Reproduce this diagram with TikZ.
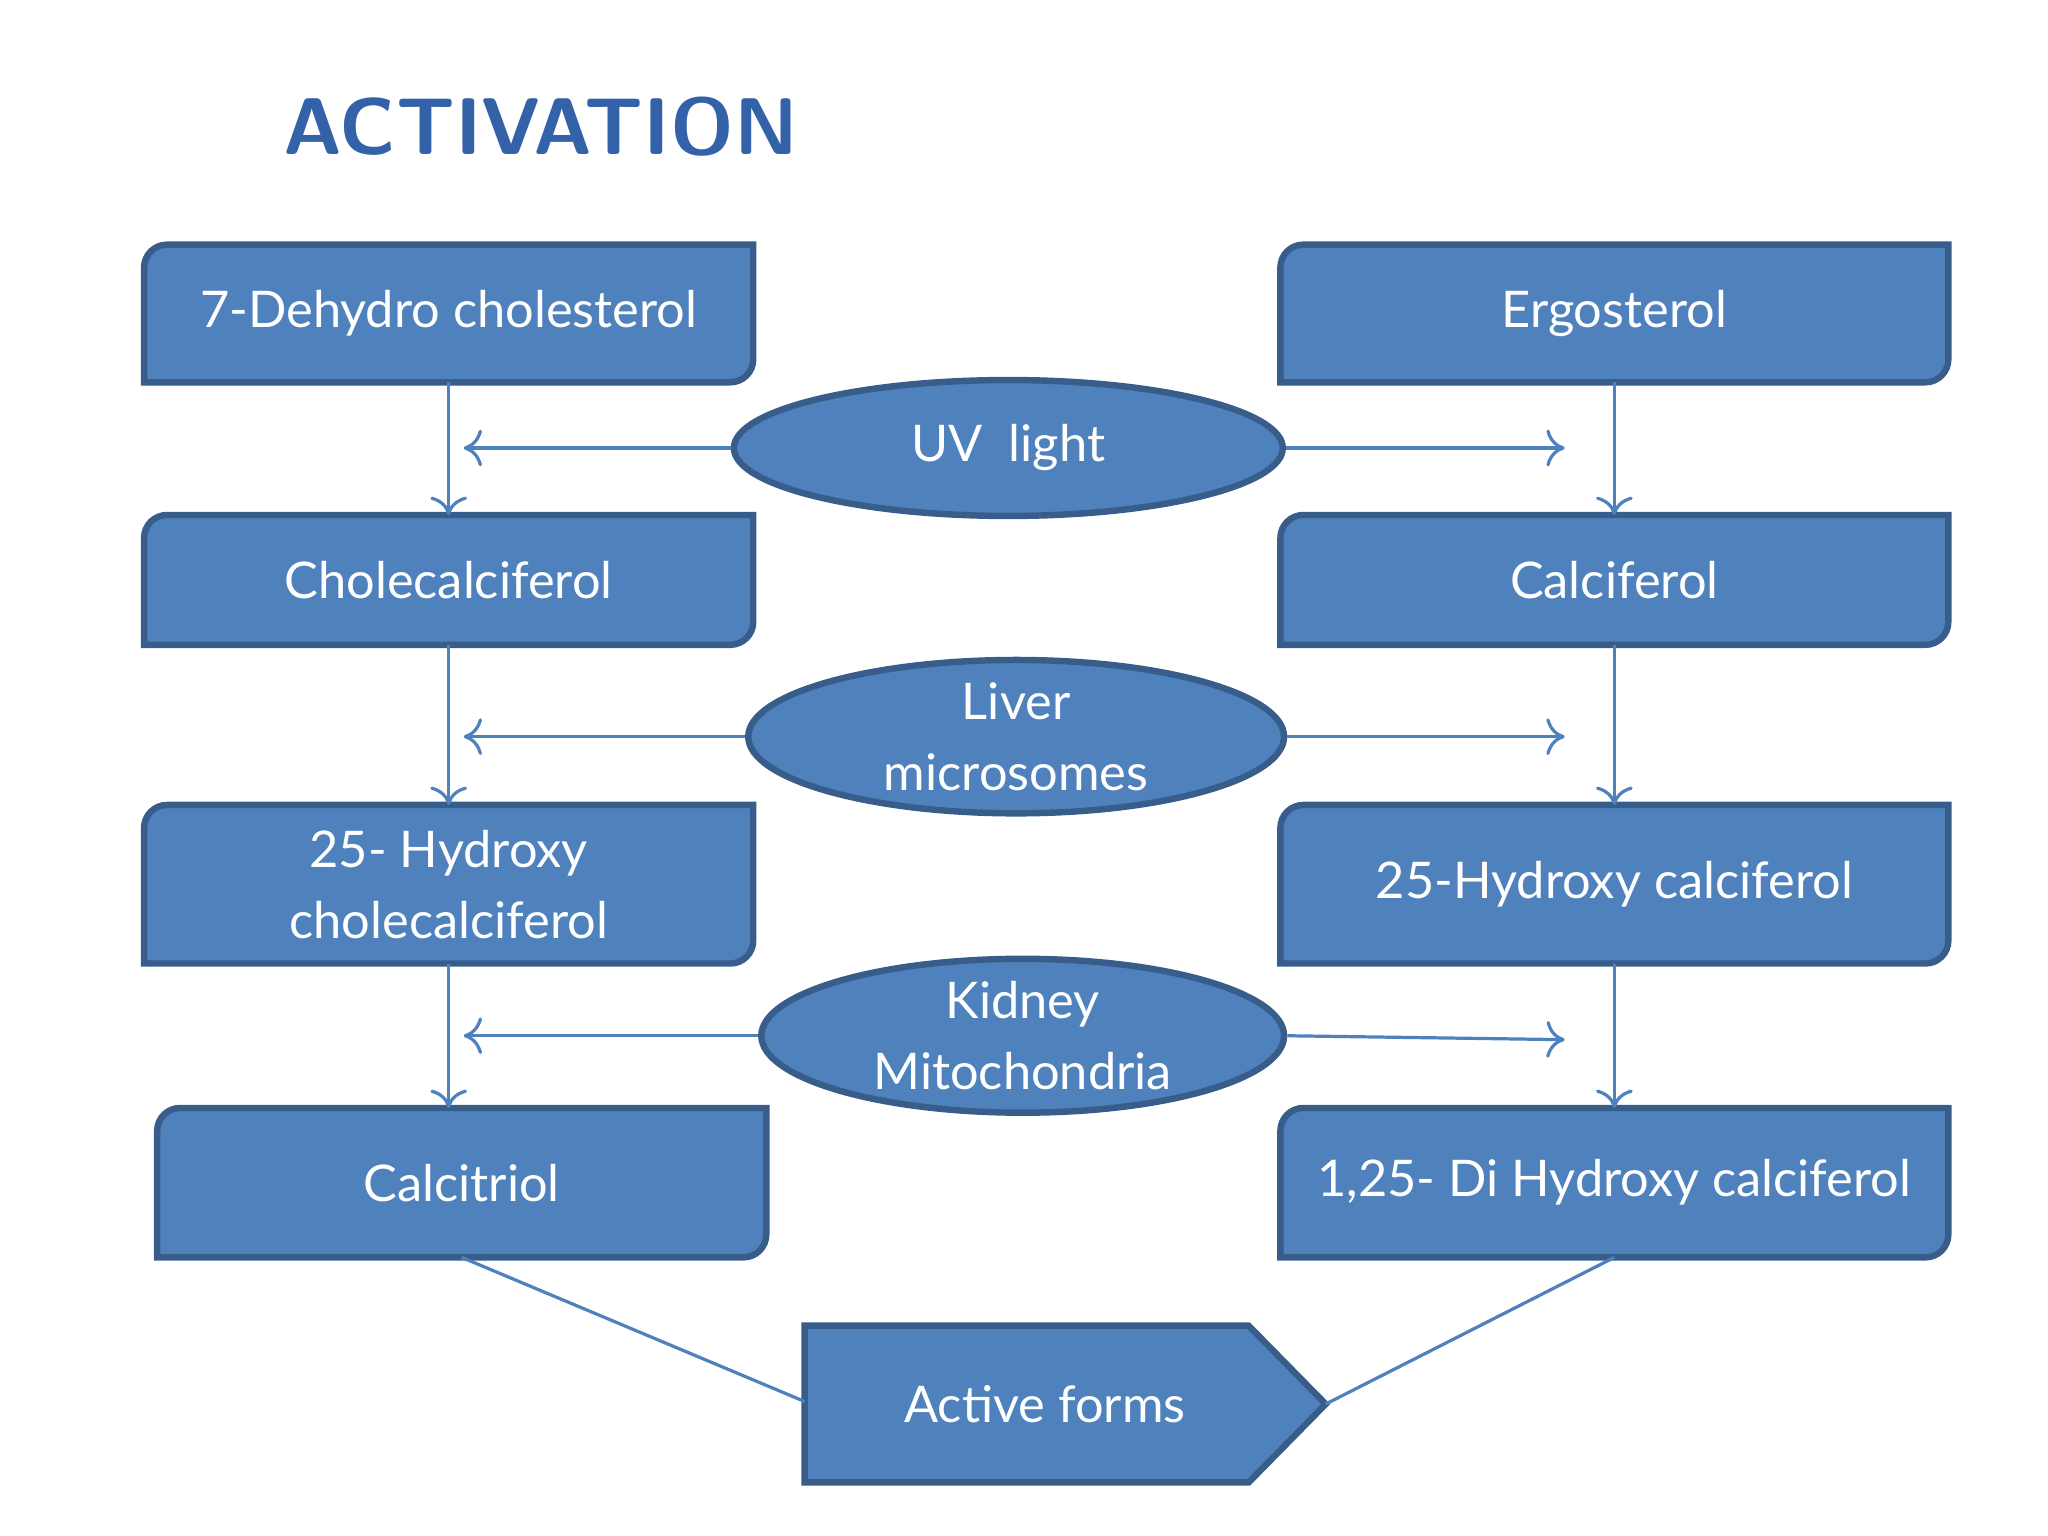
\documentclass[tikz,border=0pt]{standalone}
\usepackage{fontspec}
\setmainfont{Lato}
\usetikzlibrary{arrows.meta,positioning,shapes.geometric,backgrounds}
\definecolor{boxblue}{RGB}{79,129,189}
\definecolor{edgeblue}{RGB}{56,93,138}
\definecolor{titleblue}{RGB}{52,98,168}

\tikzset{
  stepnode/.style={inner sep=0pt,text=white,align=center,font=\fontsize{11}{15.5}\selectfont},
  boxline/.style={fill=boxblue,draw=edgeblue,line width=1.4pt},
  site/.style={ellipse,fill=boxblue,draw=edgeblue,line width=1.4pt,text=white,align=center,
    inner sep=0pt,font=\fontsize{11}{15.5}\selectfont},
  flow/.style={draw=boxblue,line width=0.7pt,-{To[length=4pt,width=8pt]}},
  link/.style={draw=boxblue,line width=0.7pt}
}
% box with rounded top-left and bottom-right corners
\newcommand\stepbox[5]{%
  \node[stepnode,minimum width=#4*0.01cm,minimum height=#5*0.01cm] (#1) at (#2) {#3};
  \begin{pgfonlayer}{background}
  \draw[boxline] (#1.south west) [rounded corners=5pt]-- (#1.north west) [sharp corners]-- (#1.north east)
    [rounded corners=5pt]-- (#1.south east) [sharp corners]-- cycle;
  \end{pgfonlayer}}

\begin{document}
\begin{tikzpicture}[x=0.01cm,y=-0.01cm]
\useasboundingbox (0,0) rectangle (1568,1176);

% Title
\node[text=titleblue,font=\fontsize{17.5}{18}\sffamily\bfseries] (title) at (414,97) {ACTIVATION};

% Steps
\stepbox{dehydro}{343.5,240}{7-Dehydro cholesterol}{465}{104}
\stepbox{ergo}{1236,240}{Ergosterol}{510}{104}
\stepbox{chole}{343.5,444}{Cholecalciferol}{465}{98}
\stepbox{calci}{1236,444}{Calciferol}{510}{98}
\stepbox{hchole}{343.5,677}{25- Hydroxy\\cholecalciferol}{465}{120}
\stepbox{hcalci}{1236,677}{25-Hydroxy calciferol}{510}{120}
\stepbox{triol}{353.5,905.5}{Calcitriol}{465}{113}
\stepbox{dihyd}{1236,905.5}{1,25- Di Hydroxy calciferol}{510}{113}

% Sites
\node[site,minimum width=4.2cm,minimum height=1.04cm] (uv) at (772,343) {UV\ \ light};
\node[site,minimum width=4.1cm,minimum height=1.08cm] (liver) at (778,564) {Liver\\microsomes};
\node[site,minimum width=4.0cm,minimum height=1.14cm] (kidney) at (783,793) {Kidney\\Mitochondria};

\coordinate (uvl) at (355,343);  \coordinate (uvr) at (1198,343);
\coordinate (lvl) at (355,564);  \coordinate (lvr) at (1198,564);
\coordinate (kdl) at (355,793);  \coordinate (kdr) at (1198,796);

% Arrows
\draw[flow] (dehydro) -- (chole);
\draw[flow] (chole) -- (hchole);
\draw[flow] (hchole.south) -- (hchole.south |- triol.north);
\draw[flow] (ergo) -- (calci);
\draw[flow] (calci) -- (hcalci);
\draw[flow] (hcalci) -- (dihyd);
\draw[flow] (uv.west) -- (uvl);
\draw[flow] (uv.east) -- (uvr);
\draw[flow] (liver.west) -- (lvl);
\draw[flow] (liver.east) -- (lvr);
\draw[flow] (kidney.west) -- (kdl);
\draw[flow] (kidney.east) -- (kdr);

% Active forms
\begin{pgfonlayer}{background}
\draw[boxline] (616,1015) -- (956,1015) -- (1015,1075) -- (956,1135) -- (616,1135) -- cycle;
\end{pgfonlayer}
\node[stepnode] (active) at (800,1075) {Active forms};
\coordinate (actl) at (616,1073);
\coordinate (actr) at (1015,1075);
\draw[link] (triol.south) -- (actl);
\draw[link] (dihyd.south) -- (actr);
\end{tikzpicture}
\end{document}
